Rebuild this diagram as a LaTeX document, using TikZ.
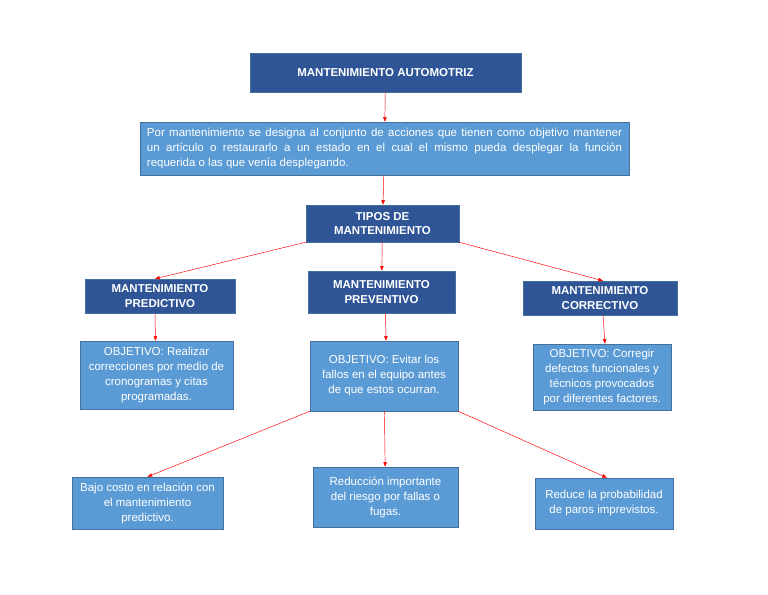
\documentclass[tikz,border=0pt]{standalone}
\usepackage{fontspec}
\setmainfont{Liberation Sans}
\usepackage{xcolor}
\usetikzlibrary{arrows.meta,positioning}
\definecolor{azulosc}{HTML}{2F5597}
\definecolor{azulcla}{HTML}{5B9BD5}
\definecolor{bordecla}{HTML}{41719C}

\begin{document}
\begin{tikzpicture}[
  x=0.03cm, y=-0.03cm,
  dbox/.style={draw=bordecla, fill=azulosc, text=white, align=center,
               font=\fontsize{9.8}{12.5}\selectfont\bfseries, inner sep=2pt},
  lbox/.style={draw=bordecla, fill=azulcla, text=white, align=center,
               font=\fontsize{9.8}{12.8}\selectfont, inner sep=2pt},
  arr/.style={-{Triangle[length=4pt, width=3pt]}, draw=red, line width=0.4pt},
]
\useasboundingbox (0,0) rectangle (768,594);
\node[dbox, minimum width=8.13cm, minimum height=1.17cm] (titulo) at (385.5,72.5)
  {MANTENIMIENTO AUTOMOTRIZ};
\node[lbox, minimum width=14.67cm, minimum height=1.59cm, text width=14.25cm,
      align=justify] (defin) at (384.5,148.5)
  {Por mantenimiento se designa al conjunto de acciones que tienen como objetivo mantener\linebreak
   un artículo o restaurarlo a un estado en el cual el mismo pueda desplegar la función\linebreak
   requerida o las que venía desplegando.};
\node[dbox, minimum width=4.59cm, minimum height=1.11cm] (tipos) at (382.5,223.5)
  {TIPOS DE\\MANTENIMIENTO};
\node[dbox, minimum width=4.5cm, minimum height=1.02cm] (pred) at (160,296)
  {MANTENIMIENTO\\PREDICTIVO};
\node[dbox, minimum width=4.41cm, minimum height=1.26cm] (prev) at (381.5,292)
  {MANTENIMIENTO\\PREVENTIVO};
\node[dbox, minimum width=4.62cm, minimum height=1.02cm] (corr) at (600,298)
  {MANTENIMIENTO\\CORRECTIVO};
\node[lbox, minimum width=4.59cm, minimum height=2.04cm] (opred) at (156.5,375)
  {OBJETIVO: Realizar\\correcciones por medio de\\cronogramas y citas\\programadas.};
\node[lbox, minimum width=4.44cm, minimum height=2.1cm] (oprev) at (384,376)
  {OBJETIVO: Evitar los\\fallos en el equipo antes\\de que estos ocurran.};
\node[lbox, minimum width=4.14cm, minimum height=1.98cm] (ocorr) at (602,377)
  {OBJETIVO: Corregir\\defectos funcionales y\\técnicos provocados\\por diferentes factores.};
\node[lbox, minimum width=4.53cm, minimum height=1.56cm] (bajo) at (147.5,503)
  {Bajo costo en relación con\\el mantenimiento\\predictivo.};
\node[lbox, minimum width=4.35cm, minimum height=1.8cm] (reduc) at (385.5,497)
  {Reducción importante\\del riesgo por fallas o\\fugas.};
\node[lbox, minimum width=4.14cm, minimum height=1.53cm] (paros) at (604,503.5)
  {Reduce la probabilidad\\de paros imprevistos.};
% conectores
\draw[arr] (titulo) -- (defin);
\draw[arr] (defin) -- (tipos);
\draw[arr] (tipos.south west) -- ([xshift=-0.15cm]pred.north);
\draw[arr] (tipos) -- (prev);
\draw[arr] (tipos.south east) -- ([xshift=0.09cm]corr.north);
\draw[arr] ([xshift=-0.15cm]pred.south) -- ([xshift=-0.03cm]opred.north);
\draw[arr] ([xshift=0.12cm]prev.south) -- ([xshift=0.06cm]oprev.north);
\draw[arr] ([xshift=0.09cm]corr.south) -- ([xshift=0.09cm]ocorr.north);
\draw[arr] (oprev.south west) -- (bajo.north);
\draw[arr] (oprev) -- (reduc);
\draw[arr] (oprev.south east) -- ([xshift=0.09cm]paros.north);
\end{tikzpicture}
\end{document}
